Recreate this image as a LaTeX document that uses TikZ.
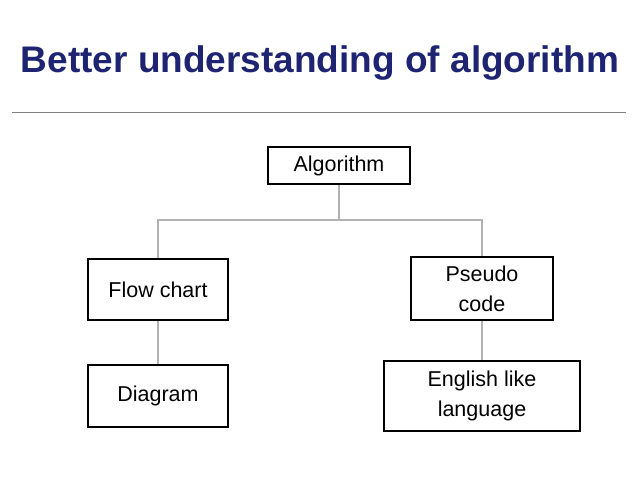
\documentclass[tikz,border=0pt]{standalone}
\usepackage{fontspec}
\setmainfont{Liberation Sans}
\definecolor{navy}{HTML}{1E2472}
\begin{document}
\begin{tikzpicture}[x=1pt,y=-1pt,
  box/.style={draw=black,line width=1.2pt,align=center,inner sep=0pt,font=\fontsize{21.5}{30}\selectfont},
  conn/.style={draw=gray!60,line width=1.2pt}]
\useasboundingbox (0,0) rectangle (638,478);
\node[font=\bfseries\fontsize{37}{40}\selectfont,text=navy] (title) at (320,63) {Better understanding of algorithm};
\coordinate (l1) at (12,112); \coordinate (l2) at (626,112);
\draw[gray,line width=0.8pt] (l1) -- (l2);
\node[box,minimum width=142pt,minimum height=37pt] (alg) at (339,165.5) {Algorithm};
\node[box,minimum width=140pt,minimum height=61pt] (flow) at (158,289.5) {Flow chart};
\node[box,minimum width=142pt,minimum height=63pt] (pseudo) at (482,288.5) {Pseudo\\code};
\node[box,minimum width=140pt,minimum height=62pt] (diag) at (158,396) {Diagram};
\node[box,minimum width=196pt,minimum height=70pt] (eng) at (482,396) {English like\\language};
\coordinate (j) at (339,220);
\draw[conn] (alg.south) -- (j);
\draw[conn] (j) -| (flow.north);
\draw[conn] (j) -| (pseudo.north);
\draw[conn] (flow.south) -- (diag.north);
\draw[conn] (pseudo.south) -- (eng.north);
\end{tikzpicture}
\end{document}
